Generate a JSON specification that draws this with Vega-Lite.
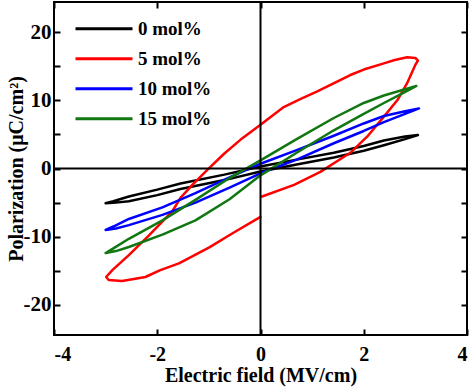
{
  "$schema": "https://vega.github.io/schema/vega-lite/v6.json",
  "width": 413,
  "height": 333,
  "autosize": "none",
  "padding": {"left": 54, "top": 2, "right": 7, "bottom": 53},
  "config": {
    "font": "Liberation Serif",
    "view": {"stroke": "black", "strokeWidth": 2},
    "axis": {"grid": false, "domain": false, "tickColor": "black", "tickWidth": 2, "labelColor": "black", "titleColor": "black", "labelFont": "Liberation Serif", "labelFontWeight": "bold", "labelFontSize": 21, "titleFont": "Liberation Serif", "titleFontWeight": "bold", "titleFontSize": 20}
  },
  "datasets": {
    "loops": [
      {"s": "0 mol%", "i": 0, "E": 0, "P": -0.45},
      {"s": "0 mol%", "i": 1, "E": 0.7, "P": 0.6},
      {"s": "0 mol%", "i": 2, "E": 1.42, "P": 1.6},
      {"s": "0 mol%", "i": 3, "E": 2.0, "P": 2.6},
      {"s": "0 mol%", "i": 4, "E": 2.39, "P": 3.4},
      {"s": "0 mol%", "i": 5, "E": 2.8, "P": 4.3},
      {"s": "0 mol%", "i": 6, "E": 3.05, "P": 4.9},
      {"s": "0 mol%", "i": 7, "E": 2.8, "P": 4.7},
      {"s": "0 mol%", "i": 8, "E": 2.39, "P": 4.1},
      {"s": "0 mol%", "i": 9, "E": 2.0, "P": 3.3},
      {"s": "0 mol%", "i": 10, "E": 1.42, "P": 2.3},
      {"s": "0 mol%", "i": 11, "E": 0.7, "P": 1.3},
      {"s": "0 mol%", "i": 12, "E": 0, "P": 0.3},
      {"s": "0 mol%", "i": 13, "E": -0.7, "P": -0.9},
      {"s": "0 mol%", "i": 14, "E": -1.55, "P": -2.2},
      {"s": "0 mol%", "i": 15, "E": -2.0, "P": -3.1},
      {"s": "0 mol%", "i": 16, "E": -2.55, "P": -4.1},
      {"s": "0 mol%", "i": 17, "E": -2.85, "P": -4.8},
      {"s": "0 mol%", "i": 18, "E": -3.0, "P": -5.1},
      {"s": "0 mol%", "i": 19, "E": -2.8, "P": -5.0},
      {"s": "0 mol%", "i": 20, "E": -2.55, "P": -4.8},
      {"s": "0 mol%", "i": 21, "E": -2.0, "P": -3.9},
      {"s": "0 mol%", "i": 22, "E": -1.55, "P": -3.0},
      {"s": "0 mol%", "i": 23, "E": -0.7, "P": -1.7},
      {"s": "0 mol%", "i": 24, "E": 0, "P": -0.45},

      {"s": "5 mol%", "i": 0, "E": 0.03, "P": -4.1},
      {"s": "5 mol%", "i": 1, "E": 0.65, "P": -2.4},
      {"s": "5 mol%", "i": 2, "E": 1.16, "P": -0.5},
      {"s": "5 mol%", "i": 3, "E": 1.55, "P": 1.4},
      {"s": "5 mol%", "i": 4, "E": 1.74, "P": 2.3},
      {"s": "5 mol%", "i": 5, "E": 2.07, "P": 4.7},
      {"s": "5 mol%", "i": 6, "E": 2.39, "P": 7.6},
      {"s": "5 mol%", "i": 7, "E": 2.65, "P": 10.0},
      {"s": "5 mol%", "i": 8, "E": 2.84, "P": 12.5},
      {"s": "5 mol%", "i": 9, "E": 3.0, "P": 15.2},
      {"s": "5 mol%", "i": 10, "E": 3.05, "P": 15.8},
      {"s": "5 mol%", "i": 11, "E": 3.0, "P": 16.2},
      {"s": "5 mol%", "i": 12, "E": 2.84, "P": 16.3},
      {"s": "5 mol%", "i": 13, "E": 2.6, "P": 15.9},
      {"s": "5 mol%", "i": 14, "E": 2.39, "P": 15.4},
      {"s": "5 mol%", "i": 15, "E": 2.0, "P": 14.5},
      {"s": "5 mol%", "i": 16, "E": 1.74, "P": 13.7},
      {"s": "5 mol%", "i": 17, "E": 1.1, "P": 11.3},
      {"s": "5 mol%", "i": 18, "E": 0.78, "P": 10.2},
      {"s": "5 mol%", "i": 19, "E": 0.45, "P": 9.0},
      {"s": "5 mol%", "i": 20, "E": 0, "P": 6.4},
      {"s": "5 mol%", "i": 21, "E": -0.39, "P": 4.2},
      {"s": "5 mol%", "i": 22, "E": -0.7, "P": 2.2},
      {"s": "5 mol%", "i": 23, "E": -1.03, "P": -0.2},
      {"s": "5 mol%", "i": 24, "E": -1.32, "P": -2.4},
      {"s": "5 mol%", "i": 25, "E": -1.55, "P": -4.3},
      {"s": "5 mol%", "i": 26, "E": -1.71, "P": -6.3},
      {"s": "5 mol%", "i": 27, "E": -2.16, "P": -9.8},
      {"s": "5 mol%", "i": 28, "E": -2.55, "P": -12.7},
      {"s": "5 mol%", "i": 29, "E": -2.87, "P": -14.9},
      {"s": "5 mol%", "i": 30, "E": -2.99, "P": -15.9},
      {"s": "5 mol%", "i": 31, "E": -2.94, "P": -16.35},
      {"s": "5 mol%", "i": 32, "E": -2.68, "P": -16.5},
      {"s": "5 mol%", "i": 33, "E": -2.23, "P": -15.9},
      {"s": "5 mol%", "i": 34, "E": -1.94, "P": -14.9},
      {"s": "5 mol%", "i": 35, "E": -1.58, "P": -13.9},
      {"s": "5 mol%", "i": 36, "E": -1.0, "P": -11.6},
      {"s": "5 mol%", "i": 37, "E": -0.5, "P": -9.3},
      {"s": "5 mol%", "i": 38, "E": 0, "P": -7.1},

      {"s": "10 mol%", "i": 0, "E": 0, "P": -0.7},
      {"s": "10 mol%", "i": 1, "E": 0.7, "P": 1.3},
      {"s": "10 mol%", "i": 2, "E": 1.42, "P": 3.7},
      {"s": "10 mol%", "i": 3, "E": 2.0, "P": 5.5},
      {"s": "10 mol%", "i": 4, "E": 2.39, "P": 6.8},
      {"s": "10 mol%", "i": 5, "E": 2.8, "P": 8.0},
      {"s": "10 mol%", "i": 6, "E": 3.07, "P": 8.8},
      {"s": "10 mol%", "i": 7, "E": 2.8, "P": 8.4},
      {"s": "10 mol%", "i": 8, "E": 2.39, "P": 7.7},
      {"s": "10 mol%", "i": 9, "E": 2.0, "P": 6.6},
      {"s": "10 mol%", "i": 10, "E": 1.42, "P": 4.8},
      {"s": "10 mol%", "i": 11, "E": 0.7, "P": 2.7},
      {"s": "10 mol%", "i": 12, "E": 0, "P": 0.7},
      {"s": "10 mol%", "i": 13, "E": -0.6, "P": -1.3},
      {"s": "10 mol%", "i": 14, "E": -1.26, "P": -3.6},
      {"s": "10 mol%", "i": 15, "E": -1.9, "P": -5.7},
      {"s": "10 mol%", "i": 16, "E": -2.55, "P": -7.4},
      {"s": "10 mol%", "i": 17, "E": -2.85, "P": -8.5},
      {"s": "10 mol%", "i": 18, "E": -3.0, "P": -9.0},
      {"s": "10 mol%", "i": 19, "E": -2.8, "P": -8.8},
      {"s": "10 mol%", "i": 20, "E": -2.55, "P": -8.3},
      {"s": "10 mol%", "i": 21, "E": -1.9, "P": -6.8},
      {"s": "10 mol%", "i": 22, "E": -1.26, "P": -5.0},
      {"s": "10 mol%", "i": 23, "E": -0.6, "P": -2.8},
      {"s": "10 mol%", "i": 24, "E": 0, "P": -0.7},

      {"s": "15 mol%", "i": 0, "E": 0, "P": -1.0},
      {"s": "15 mol%", "i": 1, "E": 0.7, "P": 2.3},
      {"s": "15 mol%", "i": 2, "E": 1.42, "P": 5.6},
      {"s": "15 mol%", "i": 3, "E": 2.0, "P": 8.0},
      {"s": "15 mol%", "i": 4, "E": 2.39, "P": 9.6},
      {"s": "15 mol%", "i": 5, "E": 2.75, "P": 11.0},
      {"s": "15 mol%", "i": 6, "E": 3.02, "P": 12.1},
      {"s": "15 mol%", "i": 7, "E": 2.75, "P": 11.5},
      {"s": "15 mol%", "i": 8, "E": 2.39, "P": 10.7},
      {"s": "15 mol%", "i": 9, "E": 2.0, "P": 9.6},
      {"s": "15 mol%", "i": 10, "E": 1.42, "P": 7.4},
      {"s": "15 mol%", "i": 11, "E": 0.7, "P": 4.3},
      {"s": "15 mol%", "i": 12, "E": 0, "P": 1.2},
      {"s": "15 mol%", "i": 13, "E": -0.6, "P": -1.4},
      {"s": "15 mol%", "i": 14, "E": -1.26, "P": -4.6},
      {"s": "15 mol%", "i": 15, "E": -1.9, "P": -7.6},
      {"s": "15 mol%", "i": 16, "E": -2.55, "P": -10.3},
      {"s": "15 mol%", "i": 17, "E": -2.85, "P": -11.7},
      {"s": "15 mol%", "i": 18, "E": -3.0, "P": -12.4},
      {"s": "15 mol%", "i": 19, "E": -2.8, "P": -12.1},
      {"s": "15 mol%", "i": 20, "E": -2.55, "P": -11.5},
      {"s": "15 mol%", "i": 21, "E": -1.9, "P": -9.7},
      {"s": "15 mol%", "i": 22, "E": -1.26, "P": -7.6},
      {"s": "15 mol%", "i": 23, "E": -0.6, "P": -4.5},
      {"s": "15 mol%", "i": 24, "E": 0, "P": -1.0}
    ]
  },
  "layer": [
    {
      "data": {"name": "loops"},
      "mark": {"type": "line", "strokeWidth": 2.5, "strokeJoin": "round", "strokeCap": "round"},
      "encoding": {
        "x": {"field": "E", "type": "quantitative", "scale": {"domain": [-4, 4], "nice": false, "zero": false},
          "axis": {"orient": "bottom", "values": [-4, -2, 0, 2, 4], "labelExpr": "replace(datum.label, '−', '-')", "labelFontSize": 20, "tickSize": -6, "labelPadding": 15, "title": "Electric field (MV/cm)", "titlePadding": 1}},
        "y": {"field": "P", "type": "quantitative", "scale": {"domain": [-24.4, 24.4], "nice": false, "zero": false},
          "axis": {"orient": "left", "values": [-20, -15, -10, -5, 0, 5, 10, 15, 20], "labelExpr": "datum.value % 10 === 0 ? replace(datum.label, '−', '-') : ''", "tickSize": -6, "labelPadding": 9, "title": "Polarization (μC/cm²)", "titleX": -38, "titleBaseline": "middle"}},
        "color": {"field": "s", "type": "nominal",
          "scale": {"domain": ["0 mol%", "5 mol%", "10 mol%", "15 mol%"], "range": ["#000000", "#ff0000", "#0000ff", "#117711"]},
          "legend": {"title": null, "orient": "none", "legendX": 20, "legendY": 12, "symbolType": "stroke", "symbolSize": 3249, "symbolStrokeWidth": 3, "labelFont": "Liberation Serif", "labelFontWeight": "bold", "labelFontSize": 19, "labelColor": "black", "clipHeight": 29.5, "rowPadding": 0, "labelOffset": 4}},
        "order": {"field": "i", "type": "quantitative"}
      }
    },
    {
      "data": {"values": [{}]},
      "mark": {"type": "rule", "color": "black", "strokeWidth": 2},
      "encoding": {
        "x": {"datum": 0, "type": "quantitative", "scale": {"domain": [-4, 4], "nice": false, "zero": false},
          "axis": {"orient": "top", "values": [-4, -2, 0, 2, 4], "tickSize": -6, "labels": false, "title": null}}
      }
    },
    {
      "data": {"values": [{}]},
      "mark": {"type": "rule", "color": "black", "strokeWidth": 2},
      "encoding": {
        "y": {"datum": 0, "type": "quantitative", "scale": {"domain": [-24.4, 24.4], "nice": false, "zero": false},
          "axis": {"orient": "right", "values": [-20, -15, -10, -5, 0, 5, 10, 15, 20], "tickSize": -6, "labels": false, "title": null}}
      }
    }
  ],
  "resolve": {"axis": {"x": "independent", "y": "independent"}}
}
